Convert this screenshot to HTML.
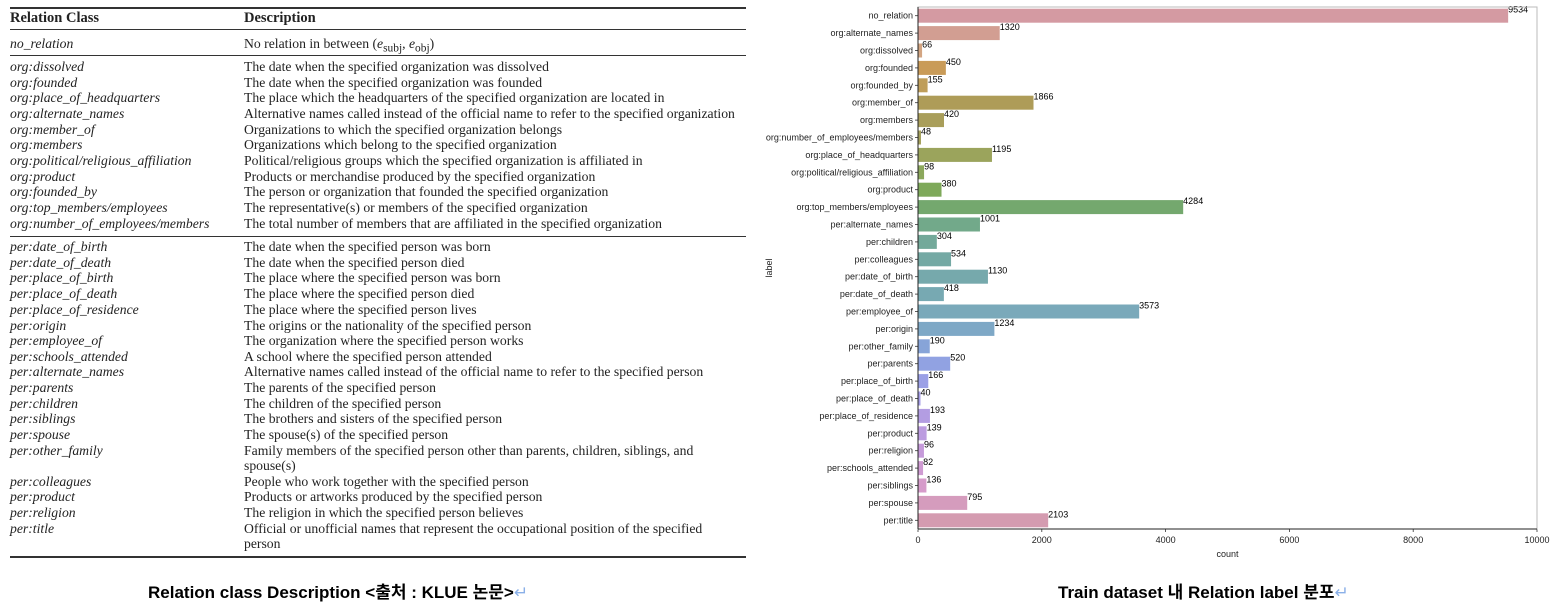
<!DOCTYPE html>
<html><head><meta charset="utf-8">
<style>
body{margin:0;width:1554px;height:608px;background:#fff;position:relative;overflow:hidden;font-family:"Liberation Serif",serif}
.r{position:absolute;left:10px;font-size:13.7px;line-height:15px;white-space:nowrap;color:#222}
.c1{position:absolute;left:0;font-style:italic}
.c2{position:absolute;left:234px;white-space:nowrap}
.hl{position:absolute;left:10px;width:736px;background:#333}
.cap{position:absolute;font-family:"Liberation Sans","Noto Sans CJK KR",sans-serif;font-weight:bold;font-size:17px;color:#000;white-space:nowrap}
.cap span{color:#8ab0e8;font-weight:normal}
</style></head><body>
<div id="table"></div>
<div class="cap" style="left:148px;top:578px">Relation class Description &lt;출처 : KLUE 논문&gt;<span>↵</span></div>
<div class="cap" style="left:1058px;top:578px">Train dataset 내 Relation label 분포<span>↵</span></div>
<svg id="chart" width="1554" height="608" style="position:absolute;left:0;top:0"></svg>
<script>
const rows=[
["no_relation","No relation in between (<i>e</i><sub>subj</sub>, <i>e</i><sub>obj</sub>)",44],
["org:dissolved","The date when the specified organization was dissolved",67],
["org:founded","The date when the specified organization was founded",83],
["org:place_of_headquarters","The place which the headquarters of the specified organization are located in",98],
["org:alternate_names","Alternative names called instead of the official name to refer to the specified organization",114],
["org:member_of","Organizations to which the specified organization belongs",130],
["org:members","Organizations which belong to the specified organization",145],
["org:political/religious_affiliation","Political/religious groups which the specified organization is affiliated in",161],
["org:product","Products or merchandise produced by the specified organization",177],
["org:founded_by","The person or organization that founded the specified organization",192],
["org:top_members/employees","The representative(s) or members of the specified organization",208],
["org:number_of_employees/members","The total number of members that are affiliated in the specified organization",224],
["per:date_of_birth","The date when the specified person was born",247],
["per:date_of_death","The date when the specified person died",263],
["per:place_of_birth","The place where the specified person was born",278],
["per:place_of_death","The place where the specified person died",294],
["per:place_of_residence","The place where the specified person lives",310],
["per:origin","The origins or the nationality of the specified person",326],
["per:employee_of","The organization where the specified person works",341],
["per:schools_attended","A school where the specified person attended",357],
["per:alternate_names","Alternative names called instead of the official name to refer to the specified person",372],
["per:parents","The parents of the specified person",388],
["per:children","The children of the specified person",404],
["per:siblings","The brothers and sisters of the specified person",419],
["per:spouse","The spouse(s) of the specified person",435],
["per:other_family","Family members of the specified person other than parents, children, siblings, and<br>spouse(s)",451],
["per:colleagues","People who work together with the specified person",482],
["per:product","Products or artworks produced by the specified person",497],
["per:religion","The religion in which the specified person believes",513],
["per:title","Official or unofficial names that represent the occupational position of the specified<br>person",529]];
const T=document.getElementById('table');
let h='<div class="r" style="top:11px;font-weight:bold;font-size:14.5px"><span class="c1" style="font-style:normal">Relation Class</span><span class="c2">Description</span></div>';
rows.forEach(r=>{h+=`<div class="r" style="top:${r[2]-8}px"><span class="c1">${r[0]}</span><span class="c2" style="top:0">${r[1]}</span></div>`;});
[[7,2],[29,1],[55,1],[236,1],[556,2]].forEach(l=>{h+=`<div class="hl" style="top:${l[0]}px;height:${l[1]}px"></div>`;});
T.innerHTML=h;
</script>
<script>
const categories=["no_relation","org:alternate_names","org:dissolved","org:founded","org:founded_by","org:member_of","org:members","org:number_of_employees/members","org:place_of_headquarters","org:political/religious_affiliation","org:product","org:top_members/employees","per:alternate_names","per:children","per:colleagues","per:date_of_birth","per:date_of_death","per:employee_of","per:origin","per:other_family","per:parents","per:place_of_birth","per:place_of_death","per:place_of_residence","per:product","per:religion","per:schools_attended","per:siblings","per:spouse","per:title"];
const counts=[9534,1320,66,450,155,1866,420,48,1195,98,380,4284,1001,304,534,1130,418,3573,1234,190,520,166,40,193,139,96,82,136,795,2103];
const xTicks=[0,2000,4000,6000,8000,10000];
const colors=["#d49aa2","#d29e92","#d3a582","#c99b58","#bf9e5a","#ae9c58","#a99e5a","#a4a05c","#9ba45c","#8ca85c","#7ea95a","#74a86e","#72a98a","#73a99a","#74a9a4","#76a9ac","#77a9b2","#7aa9ba","#7ea8c6","#87a4d8","#91a2e2","#9ba0e6","#a59ee6","#b39de2","#bc9ce0","#c69bda","#cf9bd2","#d69bca","#d59cbd","#d49bb0"];
const svg=document.getElementById('chart');const NS="http://www.w3.org/2000/svg";
const X0=918,X1=1537,Y0=7,Y1=529;
const x=v=>X0+(v-0)/(10000)*(X1-X0);
const step=(Y1-Y0)/categories.length;
const y=i=>Y0+step*(i+0.5);
function mk(t,a,txt){const e=document.createElementNS(NS,t);for(const k in a)e.setAttribute(k,a[k]);if(txt!==undefined)e.textContent=txt;svg.appendChild(e);return e;}
const fs='font-family:"Liberation Sans",sans-serif;font-size:9px';
categories.forEach((c,i)=>{
 const b=mk('rect',{x:X0,y:y(i)-7,width:x(counts[i])-X0,height:14,fill:colors[i]});
 
 
 const v=mk('text',{x:x(counts[i]),y:y(i)-3,style:fs+';fill:#000'},counts[i]);
 
 
 const l=mk('text',{x:X0-5,y:y(i)+3,'text-anchor':'end',style:fs+';fill:#222'},c);
 
 
 mk('line',{x1:X0-3,x2:X0,y1:y(i),y2:y(i),stroke:'#333','stroke-width':0.8});
});
xTicks.forEach(t=>{
 mk('line',{x1:x(t),x2:x(t),y1:Y1,y2:Y1+3,stroke:'#333','stroke-width':0.8});
 const e=mk('text',{x:x(t),y:Y1+14,'text-anchor':'middle',style:fs+';fill:#222'},t);
 
 
});
mk('rect',{x:X0,y:Y0,width:X1-X0,height:Y1-Y0,fill:'none',stroke:'#bbb','stroke-width':1});
mk('line',{x1:X0,x2:X0,y1:Y0,y2:Y1,stroke:'#222','stroke-width':1});
mk('line',{x1:X0,x2:X1,y1:Y1,y2:Y1,stroke:'#222','stroke-width':1});
const xt=mk('text',{x:(X0+X1)/2,y:Y1+28,'text-anchor':'middle',style:fs+';fill:#222'},'count');


const yt=mk('text',{x:0,y:0,'text-anchor':'middle',transform:'translate(772,268) rotate(-90)',style:fs+';fill:#222'},'label');


</script>
</body></html>
